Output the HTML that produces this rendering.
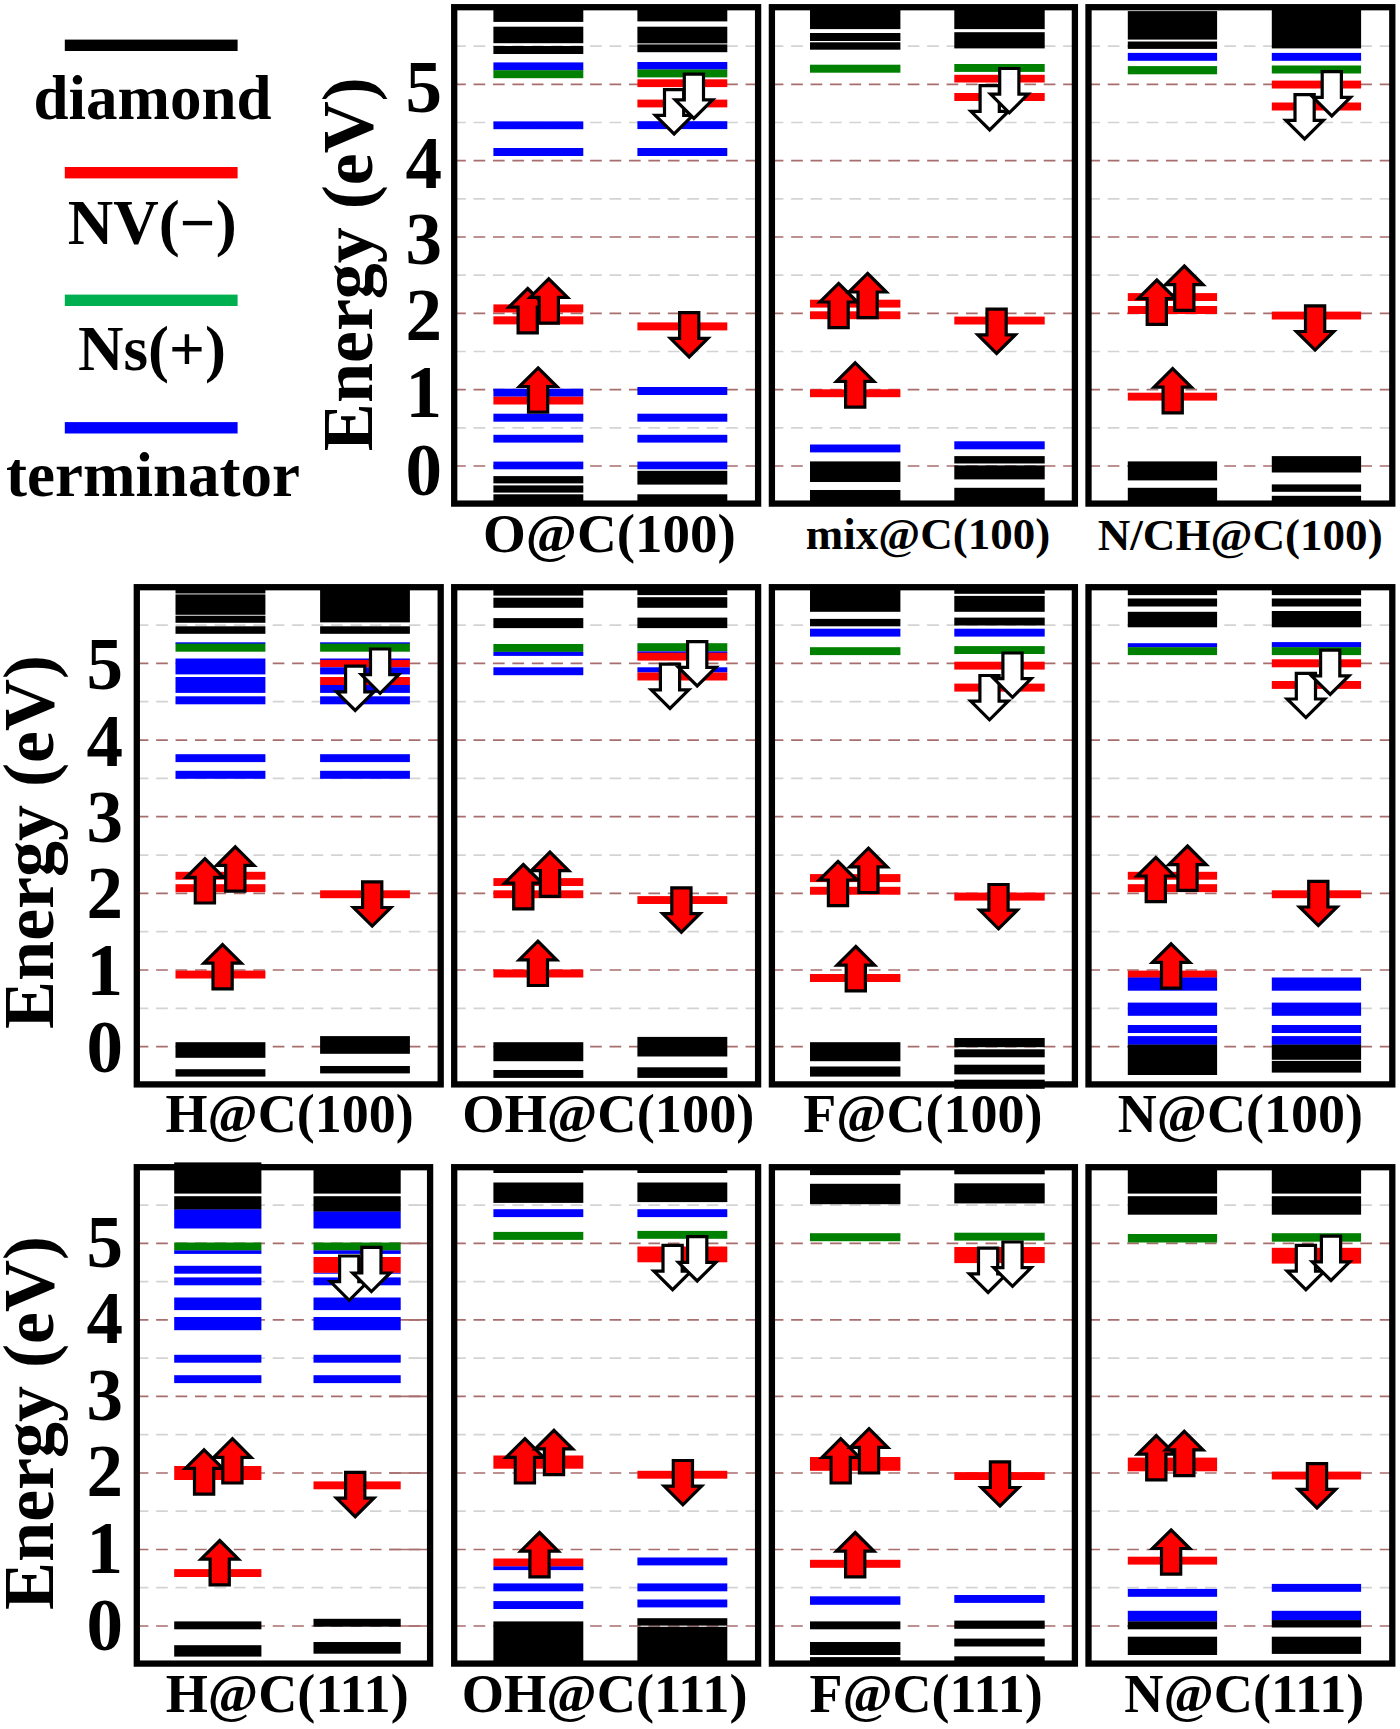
<!DOCTYPE html>
<html lang="en"><head><meta charset="utf-8"><title>Energy level diagrams</title>
<style>html,body{margin:0;padding:0;background:#fff}svg{display:block}</style></head>
<body>
<svg width="1400" height="1729" viewBox="0 0 1400 1729">
<rect width="1400" height="1729" fill="#fff"/>
<g fill="none" stroke-width="1.7" stroke-dasharray="11.7 7.73"><path d="M454.1 466H758.3" stroke="#a86d6d"/><path d="M454.1 427.8H758.3" stroke="#d3d3d3"/><path d="M454.1 389.7H758.3" stroke="#a86d6d"/><path d="M454.1 351.5H758.3" stroke="#d3d3d3"/><path d="M454.1 313.3H758.3" stroke="#a86d6d"/><path d="M454.1 275.2H758.3" stroke="#d3d3d3"/><path d="M454.1 237H758.3" stroke="#a86d6d"/><path d="M454.1 198.8H758.3" stroke="#d3d3d3"/><path d="M454.1 160.7H758.3" stroke="#a86d6d"/><path d="M454.1 122.5H758.3" stroke="#d3d3d3"/><path d="M454.1 84.4H758.3" stroke="#a86d6d"/><path d="M454.1 46.2H758.3" stroke="#d3d3d3"/></g>
<g><rect x="493.4" y="10" width="89.9" height="11.9" fill="#000"/><rect x="493.4" y="26.7" width="89.9" height="16.5" fill="#000"/><rect x="493.4" y="46" width="89.9" height="8" fill="#000"/><rect x="493.4" y="62.4" width="89.9" height="8" fill="#00f"/><rect x="493.4" y="70.2" width="89.9" height="8" fill="#008000"/><rect x="493.4" y="121.4" width="89.9" height="7.8" fill="#00f"/><rect x="493.4" y="148" width="89.9" height="8" fill="#00f"/><rect x="493.4" y="304.4" width="89.9" height="8.1" fill="#f00"/><rect x="493.4" y="316.3" width="89.9" height="8.1" fill="#f00"/><rect x="493.4" y="388.7" width="89.9" height="8" fill="#00f"/><rect x="493.4" y="396.7" width="89.9" height="7.8" fill="#f00"/><rect x="493.4" y="413.7" width="89.9" height="8" fill="#00f"/><rect x="493.4" y="434.8" width="89.9" height="7.8" fill="#00f"/><rect x="493.4" y="461.6" width="89.9" height="7.7" fill="#00f"/><rect x="493.4" y="476.1" width="89.9" height="7.3" fill="#000"/><rect x="493.4" y="485.4" width="89.9" height="7.2" fill="#000"/><rect x="493.4" y="494.3" width="89.9" height="6.7" fill="#000"/><rect x="637.4" y="10" width="89.9" height="11.4" fill="#000"/><rect x="637.4" y="26.7" width="89.9" height="16.7" fill="#000"/><rect x="637.4" y="44.4" width="89.9" height="7.8" fill="#000"/><rect x="637.4" y="62" width="89.9" height="7.6" fill="#00f"/><rect x="637.4" y="69.5" width="89.9" height="7.9" fill="#008000"/><rect x="637.4" y="79.3" width="89.9" height="7.8" fill="#f00"/><rect x="637.4" y="99.6" width="89.9" height="7.8" fill="#f00"/><rect x="637.4" y="121.2" width="89.9" height="7.9" fill="#00f"/><rect x="637.4" y="148" width="89.9" height="8" fill="#00f"/><rect x="637.4" y="322.4" width="89.9" height="8" fill="#f00"/><rect x="637.4" y="387" width="89.9" height="8" fill="#00f"/><rect x="637.4" y="413.7" width="89.9" height="8" fill="#00f"/><rect x="637.4" y="434.8" width="89.9" height="7.8" fill="#00f"/><rect x="637.4" y="461.6" width="89.9" height="7.7" fill="#00f"/><rect x="637.4" y="470.8" width="89.9" height="13.8" fill="#000"/><rect x="637.4" y="494.3" width="89.9" height="6.7" fill="#000"/></g>
<rect x="454.2" y="7.2" width="303.9" height="496.4" fill="none" stroke="#000" stroke-width="6.3"/>
<g stroke="#000" stroke-width="3.2" stroke-linejoin="miter"><path d="M527.7 288.5 L546.4 307.1 L537.3 307.1 L537.3 332.8 L518.1 332.8 L518.1 307.1 L509 307.1Z" fill="#f00"/><path d="M548.8 278.8 L567.5 297.4 L558.4 297.4 L558.4 323.1 L539.2 323.1 L539.2 297.4 L530.1 297.4Z" fill="#f00"/><path d="M538.1 367.9 L556.8 386.5 L547.7 386.5 L547.7 412.2 L528.5 412.2 L528.5 386.5 L519.4 386.5Z" fill="#f00"/><path d="M679.6 312.6 L698.8 312.6 L698.8 338.3 L707.9 338.3 L689.2 356.9 L670.5 338.3 L679.6 338.3Z" fill="#f00"/><path d="M664.5 89.7 L683.7 89.7 L683.7 115.4 L692.8 115.4 L674.1 134 L655.4 115.4 L664.5 115.4Z" fill="#fff"/><path d="M684.3 74.1 L703.5 74.1 L703.5 99.8 L712.6 99.8 L693.9 118.4 L675.2 99.8 L684.3 99.8Z" fill="#fff"/></g>
<g fill="none" stroke-width="1.7" stroke-dasharray="11.7 7.73"><path d="M771.7 466H1075" stroke="#a86d6d"/><path d="M771.7 427.8H1075" stroke="#d3d3d3"/><path d="M771.7 389.7H1075" stroke="#a86d6d"/><path d="M771.7 351.5H1075" stroke="#d3d3d3"/><path d="M771.7 313.3H1075" stroke="#a86d6d"/><path d="M771.7 275.2H1075" stroke="#d3d3d3"/><path d="M771.7 237H1075" stroke="#a86d6d"/><path d="M771.7 198.8H1075" stroke="#d3d3d3"/><path d="M771.7 160.7H1075" stroke="#a86d6d"/><path d="M771.7 122.5H1075" stroke="#d3d3d3"/><path d="M771.7 84.4H1075" stroke="#a86d6d"/><path d="M771.7 46.2H1075" stroke="#d3d3d3"/></g>
<g><rect x="810" y="10" width="90.4" height="19.1" fill="#000"/><rect x="810" y="33" width="90.4" height="8" fill="#000"/><rect x="810" y="42.3" width="90.4" height="7.4" fill="#000"/><rect x="810" y="64.7" width="90.4" height="8" fill="#008000"/><rect x="810" y="299.7" width="90.4" height="7.9" fill="#f00"/><rect x="810" y="311.3" width="90.4" height="7.9" fill="#f00"/><rect x="810" y="389.3" width="90.4" height="7.9" fill="#f00"/><rect x="810" y="444.5" width="90.4" height="7.9" fill="#00f"/><rect x="810" y="461.4" width="90.4" height="20.6" fill="#000"/><rect x="810" y="490" width="90.4" height="11" fill="#000"/><rect x="954.3" y="10" width="90.4" height="19.1" fill="#000"/><rect x="954.3" y="32.2" width="90.4" height="16.2" fill="#000"/><rect x="954.3" y="64" width="90.4" height="7.9" fill="#008000"/><rect x="954.3" y="74.8" width="90.4" height="7.7" fill="#f00"/><rect x="954.3" y="93" width="90.4" height="8" fill="#f00"/><rect x="954.3" y="316.6" width="90.4" height="7.9" fill="#f00"/><rect x="954.3" y="441.3" width="90.4" height="8" fill="#00f"/><rect x="954.3" y="456.1" width="90.4" height="7.4" fill="#000"/><rect x="954.3" y="465.4" width="90.4" height="14" fill="#000"/><rect x="954.3" y="487.8" width="90.4" height="13.2" fill="#000"/></g>
<rect x="771.9" y="7.2" width="303" height="496.4" fill="none" stroke="#000" stroke-width="6.3"/>
<g stroke="#000" stroke-width="3.2" stroke-linejoin="miter"><path d="M838.6 283.4 L857.3 302 L848.2 302 L848.2 327.7 L829 327.7 L829 302 L819.9 302Z" fill="#f00"/><path d="M867.6 273.4 L886.3 292 L877.2 292 L877.2 317.7 L858 317.7 L858 292 L848.9 292Z" fill="#f00"/><path d="M855.2 362.8 L873.9 381.4 L864.8 381.4 L864.8 407.1 L845.6 407.1 L845.6 381.4 L836.5 381.4Z" fill="#f00"/><path d="M987 309.2 L1006.2 309.2 L1006.2 334.9 L1015.3 334.9 L996.6 353.5 L977.9 334.9 L987 334.9Z" fill="#f00"/><path d="M980.1 85.6 L999.3 85.6 L999.3 111.3 L1008.4 111.3 L989.7 129.9 L971 111.3 L980.1 111.3Z" fill="#fff"/><path d="M999.7 68.5 L1018.9 68.5 L1018.9 94.2 L1028 94.2 L1009.3 112.8 L990.6 94.2 L999.7 94.2Z" fill="#fff"/></g>
<g fill="none" stroke-width="1.7" stroke-dasharray="11.7 7.73"><path d="M1088.3 466H1392.4" stroke="#a86d6d"/><path d="M1088.3 427.8H1392.4" stroke="#d3d3d3"/><path d="M1088.3 389.7H1392.4" stroke="#a86d6d"/><path d="M1088.3 351.5H1392.4" stroke="#d3d3d3"/><path d="M1088.3 313.3H1392.4" stroke="#a86d6d"/><path d="M1088.3 275.2H1392.4" stroke="#d3d3d3"/><path d="M1088.3 237H1392.4" stroke="#a86d6d"/><path d="M1088.3 198.8H1392.4" stroke="#d3d3d3"/><path d="M1088.3 160.7H1392.4" stroke="#a86d6d"/><path d="M1088.3 122.5H1392.4" stroke="#d3d3d3"/><path d="M1088.3 84.4H1392.4" stroke="#a86d6d"/><path d="M1088.3 46.2H1392.4" stroke="#d3d3d3"/></g>
<g><rect x="1127.8" y="11.1" width="89.3" height="28.5" fill="#000"/><rect x="1127.8" y="41.5" width="89.3" height="7.4" fill="#000"/><rect x="1127.8" y="52.9" width="89.3" height="7.9" fill="#00f"/><rect x="1127.8" y="66.1" width="89.3" height="8.2" fill="#008000"/><rect x="1127.8" y="293.1" width="89.3" height="7.9" fill="#f00"/><rect x="1127.8" y="306" width="89.3" height="8" fill="#f00"/><rect x="1127.8" y="392.7" width="89.3" height="7.9" fill="#f00"/><rect x="1127.8" y="461.4" width="89.3" height="19" fill="#000"/><rect x="1127.8" y="487.8" width="89.3" height="13.2" fill="#000"/><rect x="1271.8" y="10" width="89.3" height="38.4" fill="#000"/><rect x="1271.8" y="52.9" width="89.3" height="7.9" fill="#00f"/><rect x="1271.8" y="65.5" width="89.3" height="8" fill="#008000"/><rect x="1271.8" y="80.6" width="89.3" height="7.9" fill="#f00"/><rect x="1271.8" y="102.5" width="89.3" height="8" fill="#f00"/><rect x="1271.8" y="311.6" width="89.3" height="7.9" fill="#f00"/><rect x="1271.8" y="456.1" width="89.3" height="16.4" fill="#000"/><rect x="1271.8" y="484.4" width="89.3" height="7.4" fill="#000"/><rect x="1271.8" y="495.8" width="89.3" height="5.2" fill="#000"/></g>
<rect x="1088.5" y="7.2" width="303.8" height="496.4" fill="none" stroke="#000" stroke-width="6.3"/>
<g stroke="#000" stroke-width="3.2" stroke-linejoin="miter"><path d="M1156.8 280 L1175.5 298.6 L1166.4 298.6 L1166.4 324.3 L1147.2 324.3 L1147.2 298.6 L1138.1 298.6Z" fill="#f00"/><path d="M1184.3 266 L1203 284.6 L1193.9 284.6 L1193.9 310.3 L1174.7 310.3 L1174.7 284.6 L1165.6 284.6Z" fill="#f00"/><path d="M1172.7 368.6 L1191.4 387.2 L1182.3 387.2 L1182.3 412.9 L1163.1 412.9 L1163.1 387.2 L1154 387.2Z" fill="#f00"/><path d="M1305.5 305.8 L1324.7 305.8 L1324.7 331.5 L1333.8 331.5 L1315.1 350.1 L1296.4 331.5 L1305.5 331.5Z" fill="#f00"/><path d="M1295 94.6 L1314.2 94.6 L1314.2 120.3 L1323.3 120.3 L1304.6 138.9 L1285.9 120.3 L1295 120.3Z" fill="#fff"/><path d="M1322.2 71.6 L1341.4 71.6 L1341.4 97.3 L1350.5 97.3 L1331.8 115.9 L1313.1 97.3 L1322.2 97.3Z" fill="#fff"/></g>
<g fill="none" stroke-width="1.7" stroke-dasharray="11.7 7.73"><path d="M136.7 1046.7H440.9" stroke="#a86d6d"/><path d="M136.7 1008.4H440.9" stroke="#d3d3d3"/><path d="M136.7 970H440.9" stroke="#a86d6d"/><path d="M136.7 931.7H440.9" stroke="#d3d3d3"/><path d="M136.7 893.4H440.9" stroke="#a86d6d"/><path d="M136.7 855.1H440.9" stroke="#d3d3d3"/><path d="M136.7 816.7H440.9" stroke="#a86d6d"/><path d="M136.7 778.4H440.9" stroke="#d3d3d3"/><path d="M136.7 740.1H440.9" stroke="#a86d6d"/><path d="M136.7 701.7H440.9" stroke="#d3d3d3"/><path d="M136.7 663.4H440.9" stroke="#a86d6d"/><path d="M136.7 625.1H440.9" stroke="#d3d3d3"/></g>
<g><rect x="175.5" y="590" width="89.9" height="3.5" fill="#000"/><rect x="175.5" y="594.4" width="89.9" height="20.4" fill="#000"/><rect x="175.5" y="615.7" width="89.9" height="7.1" fill="#000"/><rect x="175.5" y="626.3" width="89.9" height="7.5" fill="#000"/><rect x="175.5" y="642.3" width="89.9" height="1.7" fill="#00f"/><rect x="175.5" y="643.6" width="89.9" height="8.1" fill="#008000"/><rect x="175.5" y="658.5" width="89.9" height="15.9" fill="#00f"/><rect x="175.5" y="677" width="89.9" height="15.9" fill="#00f"/><rect x="175.5" y="696.3" width="89.9" height="8" fill="#00f"/><rect x="175.5" y="754.2" width="89.9" height="7.9" fill="#00f"/><rect x="175.5" y="770.8" width="89.9" height="8" fill="#00f"/><rect x="175.5" y="871.8" width="89.9" height="7.9" fill="#f00"/><rect x="175.5" y="884.2" width="89.9" height="7.9" fill="#f00"/><rect x="175.5" y="970.6" width="89.9" height="7.9" fill="#f00"/><rect x="175.5" y="1042.2" width="89.9" height="15.6" fill="#000"/><rect x="175.5" y="1069.2" width="89.9" height="7.4" fill="#000"/><rect x="320.1" y="590" width="89.8" height="32.4" fill="#000"/><rect x="320.1" y="626.3" width="89.8" height="7.5" fill="#000"/><rect x="320.1" y="642.3" width="89.8" height="1.7" fill="#00f"/><rect x="320.1" y="643.6" width="89.8" height="8.1" fill="#008000"/><rect x="320.1" y="658.5" width="89.8" height="2" fill="#00f"/><rect x="320.1" y="659.9" width="89.8" height="7.4" fill="#f00"/><rect x="320.1" y="667.3" width="89.8" height="7.1" fill="#00f"/><rect x="320.1" y="677" width="89.8" height="8" fill="#f00"/><rect x="320.1" y="685" width="89.8" height="7.9" fill="#00f"/><rect x="320.1" y="696.3" width="89.8" height="8" fill="#00f"/><rect x="320.1" y="754.2" width="89.8" height="7.9" fill="#00f"/><rect x="320.1" y="770.8" width="89.8" height="8" fill="#00f"/><rect x="320.1" y="890.3" width="89.8" height="7.9" fill="#f00"/><rect x="320.1" y="1036.1" width="89.8" height="17.7" fill="#000"/><rect x="320.1" y="1066" width="89.8" height="7.4" fill="#000"/></g>
<rect x="136.8" y="587.2" width="303.9" height="497.2" fill="none" stroke="#000" stroke-width="6.3"/>
<g stroke="#000" stroke-width="3.2" stroke-linejoin="miter"><path d="M204.9 858.7 L223.6 877.3 L214.5 877.3 L214.5 903 L195.3 903 L195.3 877.3 L186.2 877.3Z" fill="#f00"/><path d="M235.3 846.8 L254 865.4 L244.9 865.4 L244.9 891.1 L225.7 891.1 L225.7 865.4 L216.6 865.4Z" fill="#f00"/><path d="M222.6 944.6 L241.3 963.2 L232.2 963.2 L232.2 988.9 L213 988.9 L213 963.2 L203.9 963.2Z" fill="#f00"/><path d="M362.6 881.8 L381.8 881.8 L381.8 907.5 L390.9 907.5 L372.2 926.1 L353.5 907.5 L362.6 907.5Z" fill="#f00"/><path d="M345.6 666.2 L364.8 666.2 L364.8 691.9 L373.9 691.9 L355.2 710.5 L336.5 691.9 L345.6 691.9Z" fill="#fff"/><path d="M370.5 649 L389.7 649 L389.7 674.7 L398.8 674.7 L380.1 693.3 L361.4 674.7 L370.5 674.7Z" fill="#fff"/></g>
<g fill="none" stroke-width="1.7" stroke-dasharray="11.7 7.73"><path d="M454.1 1046.7H758.3" stroke="#a86d6d"/><path d="M454.1 1008.4H758.3" stroke="#d3d3d3"/><path d="M454.1 970H758.3" stroke="#a86d6d"/><path d="M454.1 931.7H758.3" stroke="#d3d3d3"/><path d="M454.1 893.4H758.3" stroke="#a86d6d"/><path d="M454.1 855.1H758.3" stroke="#d3d3d3"/><path d="M454.1 816.7H758.3" stroke="#a86d6d"/><path d="M454.1 778.4H758.3" stroke="#d3d3d3"/><path d="M454.1 740.1H758.3" stroke="#a86d6d"/><path d="M454.1 701.7H758.3" stroke="#d3d3d3"/><path d="M454.1 663.4H758.3" stroke="#a86d6d"/><path d="M454.1 625.1H758.3" stroke="#d3d3d3"/></g>
<g><rect x="493.4" y="590" width="89.9" height="5.6" fill="#000"/><rect x="493.4" y="597.7" width="89.9" height="10.1" fill="#000"/><rect x="493.4" y="618.1" width="89.9" height="10" fill="#000"/><rect x="493.4" y="644" width="89.9" height="7.9" fill="#008000"/><rect x="493.4" y="651.9" width="89.9" height="4" fill="#00f"/><rect x="493.4" y="667.3" width="89.9" height="7.9" fill="#00f"/><rect x="493.4" y="878.1" width="89.9" height="7.9" fill="#f00"/><rect x="493.4" y="890.3" width="89.9" height="7.9" fill="#f00"/><rect x="493.4" y="969.5" width="89.9" height="8" fill="#f00"/><rect x="493.4" y="1042.2" width="89.9" height="19" fill="#000"/><rect x="493.4" y="1070" width="89.9" height="7.9" fill="#000"/><rect x="637.4" y="590" width="89.9" height="5.1" fill="#000"/><rect x="637.4" y="597.2" width="89.9" height="10.6" fill="#000"/><rect x="637.4" y="617.6" width="89.9" height="10.5" fill="#000"/><rect x="637.4" y="643.2" width="89.9" height="8.2" fill="#008000"/><rect x="637.4" y="651.4" width="89.9" height="1.6" fill="#00f"/><rect x="637.4" y="652.7" width="89.9" height="7.9" fill="#f00"/><rect x="637.4" y="667.3" width="89.9" height="5.2" fill="#00f"/><rect x="637.4" y="672.5" width="89.9" height="8" fill="#f00"/><rect x="637.4" y="896.1" width="89.9" height="7.9" fill="#f00"/><rect x="637.4" y="1036.9" width="89.9" height="19.6" fill="#000"/><rect x="637.4" y="1067.3" width="89.9" height="10.6" fill="#000"/></g>
<rect x="454.2" y="587.2" width="303.9" height="497.2" fill="none" stroke="#000" stroke-width="6.3"/>
<g stroke="#000" stroke-width="3.2" stroke-linejoin="miter"><path d="M523.3 864.5 L542 883.1 L532.9 883.1 L532.9 908.8 L513.7 908.8 L513.7 883.1 L504.6 883.1Z" fill="#f00"/><path d="M550 852.1 L568.7 870.7 L559.6 870.7 L559.6 896.4 L540.4 896.4 L540.4 870.7 L531.3 870.7Z" fill="#f00"/><path d="M537.9 941.2 L556.6 959.8 L547.5 959.8 L547.5 985.5 L528.3 985.5 L528.3 959.8 L519.2 959.8Z" fill="#f00"/><path d="M671.8 887.9 L691 887.9 L691 913.6 L700.1 913.6 L681.4 932.2 L662.7 913.6 L671.8 913.6Z" fill="#f00"/><path d="M660.4 664.1 L679.6 664.1 L679.6 689.8 L688.7 689.8 L670 708.4 L651.3 689.8 L660.4 689.8Z" fill="#fff"/><path d="M687.6 641.6 L706.8 641.6 L706.8 667.3 L715.9 667.3 L697.2 685.9 L678.5 667.3 L687.6 667.3Z" fill="#fff"/></g>
<g fill="none" stroke-width="1.7" stroke-dasharray="11.7 7.73"><path d="M771.7 1046.7H1075" stroke="#a86d6d"/><path d="M771.7 1008.4H1075" stroke="#d3d3d3"/><path d="M771.7 970H1075" stroke="#a86d6d"/><path d="M771.7 931.7H1075" stroke="#d3d3d3"/><path d="M771.7 893.4H1075" stroke="#a86d6d"/><path d="M771.7 855.1H1075" stroke="#d3d3d3"/><path d="M771.7 816.7H1075" stroke="#a86d6d"/><path d="M771.7 778.4H1075" stroke="#d3d3d3"/><path d="M771.7 740.1H1075" stroke="#a86d6d"/><path d="M771.7 701.7H1075" stroke="#d3d3d3"/><path d="M771.7 663.4H1075" stroke="#a86d6d"/><path d="M771.7 625.1H1075" stroke="#d3d3d3"/></g>
<g><rect x="810" y="590" width="90.4" height="21.8" fill="#000"/><rect x="810" y="618.9" width="90.4" height="7.4" fill="#000"/><rect x="810" y="628.7" width="90.4" height="7.9" fill="#00f"/><rect x="810" y="647.2" width="90.4" height="7.9" fill="#008000"/><rect x="810" y="874.1" width="90.4" height="8" fill="#f00"/><rect x="810" y="886.8" width="90.4" height="7.9" fill="#f00"/><rect x="810" y="974" width="90.4" height="8" fill="#f00"/><rect x="810" y="1042.2" width="90.4" height="19" fill="#000"/><rect x="810" y="1066.5" width="90.4" height="10.1" fill="#000"/><rect x="954.3" y="590" width="90.4" height="3.8" fill="#000"/><rect x="954.3" y="595.9" width="90.4" height="15.9" fill="#000"/><rect x="954.3" y="617.6" width="90.4" height="7.9" fill="#000"/><rect x="954.3" y="628.7" width="90.4" height="7.9" fill="#00f"/><rect x="954.3" y="646.1" width="90.4" height="7.9" fill="#008000"/><rect x="954.3" y="661.7" width="90.4" height="7.9" fill="#f00"/><rect x="954.3" y="683.6" width="90.4" height="8" fill="#f00"/><rect x="954.3" y="892.6" width="90.4" height="8" fill="#f00"/><rect x="954.3" y="1038" width="90.4" height="9.2" fill="#000"/><rect x="954.3" y="1049.3" width="90.4" height="8" fill="#000"/><rect x="954.3" y="1064.7" width="90.4" height="9.7" fill="#000"/><rect x="954.3" y="1079.7" width="90.4" height="9.1" fill="#000"/></g>
<rect x="771.9" y="587.2" width="303" height="497.2" fill="none" stroke="#000" stroke-width="6.3"/>
<g stroke="#000" stroke-width="3.2" stroke-linejoin="miter"><path d="M838 861.4 L856.7 880 L847.6 880 L847.6 905.7 L828.4 905.7 L828.4 880 L819.3 880Z" fill="#f00"/><path d="M868.4 848.2 L887.1 866.8 L878 866.8 L878 892.5 L858.8 892.5 L858.8 866.8 L849.7 866.8Z" fill="#f00"/><path d="M855.8 946.5 L874.5 965.1 L865.4 965.1 L865.4 990.8 L846.2 990.8 L846.2 965.1 L837.1 965.1Z" fill="#f00"/><path d="M988.9 884.5 L1008.1 884.5 L1008.1 910.2 L1017.2 910.2 L998.5 928.8 L979.8 910.2 L988.9 910.2Z" fill="#f00"/><path d="M979.9 675.5 L999.1 675.5 L999.1 701.2 L1008.2 701.2 L989.5 719.8 L970.8 701.2 L979.9 701.2Z" fill="#fff"/><path d="M1002.9 653 L1022.1 653 L1022.1 678.7 L1031.2 678.7 L1012.5 697.3 L993.8 678.7 L1002.9 678.7Z" fill="#fff"/></g>
<g fill="none" stroke-width="1.7" stroke-dasharray="11.7 7.73"><path d="M1088.3 1046.7H1392.4" stroke="#a86d6d"/><path d="M1088.3 1008.4H1392.4" stroke="#d3d3d3"/><path d="M1088.3 970H1392.4" stroke="#a86d6d"/><path d="M1088.3 931.7H1392.4" stroke="#d3d3d3"/><path d="M1088.3 893.4H1392.4" stroke="#a86d6d"/><path d="M1088.3 855.1H1392.4" stroke="#d3d3d3"/><path d="M1088.3 816.7H1392.4" stroke="#a86d6d"/><path d="M1088.3 778.4H1392.4" stroke="#d3d3d3"/><path d="M1088.3 740.1H1392.4" stroke="#a86d6d"/><path d="M1088.3 701.7H1392.4" stroke="#d3d3d3"/><path d="M1088.3 663.4H1392.4" stroke="#a86d6d"/><path d="M1088.3 625.1H1392.4" stroke="#d3d3d3"/></g>
<g><rect x="1127.8" y="590" width="89.3" height="5.1" fill="#000"/><rect x="1127.8" y="598.5" width="89.3" height="8" fill="#000"/><rect x="1127.8" y="611.8" width="89.3" height="15.5" fill="#000"/><rect x="1127.8" y="643.2" width="89.3" height="4.3" fill="#00f"/><rect x="1127.8" y="647.2" width="89.3" height="7.9" fill="#008000"/><rect x="1127.8" y="871.8" width="89.3" height="7.9" fill="#f00"/><rect x="1127.8" y="884.2" width="89.3" height="7.9" fill="#f00"/><rect x="1127.8" y="970.6" width="89.3" height="7.2" fill="#f00"/><rect x="1127.8" y="977.5" width="89.3" height="13.2" fill="#00f"/><rect x="1127.8" y="1002.6" width="89.3" height="13.2" fill="#00f"/><rect x="1127.8" y="1025" width="89.3" height="8" fill="#00f"/><rect x="1127.8" y="1036.1" width="89.3" height="8.7" fill="#00f"/><rect x="1127.8" y="1044.6" width="89.3" height="30.4" fill="#000"/><rect x="1271.8" y="590" width="89.3" height="5.1" fill="#000"/><rect x="1271.8" y="598.5" width="89.3" height="8" fill="#000"/><rect x="1271.8" y="611" width="89.3" height="16.3" fill="#000"/><rect x="1271.8" y="642.1" width="89.3" height="5.4" fill="#00f"/><rect x="1271.8" y="647.2" width="89.3" height="7.9" fill="#008000"/><rect x="1271.8" y="659.3" width="89.3" height="8" fill="#f00"/><rect x="1271.8" y="681" width="89.3" height="7.9" fill="#f00"/><rect x="1271.8" y="890.3" width="89.3" height="7.9" fill="#f00"/><rect x="1271.8" y="977.5" width="89.3" height="13.2" fill="#00f"/><rect x="1271.8" y="1002.6" width="89.3" height="13.2" fill="#00f"/><rect x="1271.8" y="1025" width="89.3" height="8" fill="#00f"/><rect x="1271.8" y="1036.1" width="89.3" height="8.7" fill="#00f"/><rect x="1271.8" y="1044.6" width="89.3" height="15.2" fill="#000"/><rect x="1271.8" y="1060.9" width="89.3" height="11.7" fill="#000"/></g>
<rect x="1088.5" y="587.2" width="303.8" height="497.2" fill="none" stroke="#000" stroke-width="6.3"/>
<g stroke="#000" stroke-width="3.2" stroke-linejoin="miter"><path d="M1155.8 857.4 L1174.5 876 L1165.4 876 L1165.4 901.7 L1146.2 901.7 L1146.2 876 L1137.1 876Z" fill="#f00"/><path d="M1187.5 846 L1206.2 864.6 L1197.1 864.6 L1197.1 890.3 L1177.9 890.3 L1177.9 864.6 L1168.8 864.6Z" fill="#f00"/><path d="M1171.1 943.8 L1189.8 962.4 L1180.7 962.4 L1180.7 988.1 L1161.5 988.1 L1161.5 962.4 L1152.4 962.4Z" fill="#f00"/><path d="M1308.7 881.3 L1327.9 881.3 L1327.9 907 L1337 907 L1318.3 925.6 L1299.6 907 L1308.7 907Z" fill="#f00"/><path d="M1296.3 673.3 L1315.5 673.3 L1315.5 699 L1324.6 699 L1305.9 717.6 L1287.2 699 L1296.3 699Z" fill="#fff"/><path d="M1320.6 650.1 L1339.8 650.1 L1339.8 675.8 L1348.9 675.8 L1330.2 694.4 L1311.5 675.8 L1320.6 675.8Z" fill="#fff"/></g>
<g fill="none" stroke-width="1.7" stroke-dasharray="11.7 7.73"><path d="M136.7 1626H430.3" stroke="#a86d6d"/><path d="M389.1 1626H430.3" stroke="#a86d6d" stroke-dasharray="none"/><path d="M136.7 1587.7H430.3" stroke="#d3d3d3"/><path d="M408.6 1587.7H430.3" stroke="#d3d3d3" stroke-dasharray="none"/><path d="M136.7 1549.5H430.3" stroke="#a86d6d"/><path d="M389.1 1549.5H430.3" stroke="#a86d6d" stroke-dasharray="none"/><path d="M136.7 1511.2H430.3" stroke="#d3d3d3"/><path d="M408.6 1511.2H430.3" stroke="#d3d3d3" stroke-dasharray="none"/><path d="M136.7 1473H430.3" stroke="#a86d6d"/><path d="M389.1 1473H430.3" stroke="#a86d6d" stroke-dasharray="none"/><path d="M136.7 1434.7H430.3" stroke="#d3d3d3"/><path d="M408.6 1434.7H430.3" stroke="#d3d3d3" stroke-dasharray="none"/><path d="M136.7 1396.4H430.3" stroke="#a86d6d"/><path d="M389.1 1396.4H430.3" stroke="#a86d6d" stroke-dasharray="none"/><path d="M136.7 1358.2H430.3" stroke="#d3d3d3"/><path d="M408.6 1358.2H430.3" stroke="#d3d3d3" stroke-dasharray="none"/><path d="M136.7 1319.9H430.3" stroke="#a86d6d"/><path d="M389.1 1319.9H430.3" stroke="#a86d6d" stroke-dasharray="none"/><path d="M136.7 1281.7H430.3" stroke="#d3d3d3"/><path d="M408.6 1281.7H430.3" stroke="#d3d3d3" stroke-dasharray="none"/><path d="M136.7 1243.4H430.3" stroke="#a86d6d"/><path d="M389.1 1243.4H430.3" stroke="#a86d6d" stroke-dasharray="none"/><path d="M136.7 1205.1H430.3" stroke="#d3d3d3"/><path d="M408.6 1205.1H430.3" stroke="#d3d3d3" stroke-dasharray="none"/></g>
<g><rect x="174.2" y="1162.4" width="87.2" height="31.2" fill="#000"/><rect x="174.2" y="1196.2" width="87.2" height="13.6" fill="#000"/><rect x="174.2" y="1209.5" width="87.2" height="19" fill="#00f"/><rect x="174.2" y="1242.5" width="87.2" height="8.1" fill="#008000"/><rect x="174.2" y="1250.4" width="87.2" height="3.5" fill="#00f"/><rect x="174.2" y="1265.8" width="87.2" height="7.9" fill="#00f"/><rect x="174.2" y="1277.4" width="87.2" height="7.9" fill="#00f"/><rect x="174.2" y="1297.5" width="87.2" height="12.6" fill="#00f"/><rect x="174.2" y="1317" width="87.2" height="13.2" fill="#00f"/><rect x="174.2" y="1354.8" width="87.2" height="7.9" fill="#00f"/><rect x="174.2" y="1375.2" width="87.2" height="7.9" fill="#00f"/><rect x="174.2" y="1466" width="87.2" height="14" fill="#f00"/><rect x="174.2" y="1569.1" width="87.2" height="7.9" fill="#f00"/><rect x="174.2" y="1621.4" width="87.2" height="7.9" fill="#000"/><rect x="174.2" y="1645.2" width="87.2" height="11.4" fill="#000"/><rect x="313.5" y="1170" width="87.2" height="23.6" fill="#000"/><rect x="313.5" y="1196.2" width="87.2" height="15.6" fill="#000"/><rect x="313.5" y="1211.6" width="87.2" height="16.9" fill="#00f"/><rect x="313.5" y="1242.5" width="87.2" height="8.1" fill="#008000"/><rect x="313.5" y="1250.4" width="87.2" height="3.5" fill="#00f"/><rect x="313.5" y="1257" width="87.2" height="15.9" fill="#f00"/><rect x="313.5" y="1272.9" width="87.2" height="0.8" fill="#00f"/><rect x="313.5" y="1277.4" width="87.2" height="7.9" fill="#00f"/><rect x="313.5" y="1297.5" width="87.2" height="12.6" fill="#00f"/><rect x="313.5" y="1317" width="87.2" height="13.2" fill="#00f"/><rect x="313.5" y="1354.8" width="87.2" height="7.9" fill="#00f"/><rect x="313.5" y="1375.2" width="87.2" height="7.9" fill="#00f"/><rect x="313.5" y="1481.4" width="87.2" height="7.9" fill="#f00"/><rect x="313.5" y="1618.8" width="87.2" height="7.9" fill="#000"/><rect x="313.5" y="1642" width="87.2" height="11.7" fill="#000"/></g>
<rect x="136.8" y="1167.2" width="293.3" height="496.4" fill="none" stroke="#000" stroke-width="6.3"/>
<g stroke="#000" stroke-width="3.2" stroke-linejoin="miter"><path d="M204.1 1449.8 L222.8 1468.4 L213.7 1468.4 L213.7 1494.1 L194.5 1494.1 L194.5 1468.4 L185.4 1468.4Z" fill="#f00"/><path d="M232.4 1438.7 L251.1 1457.3 L242 1457.3 L242 1483 L222.8 1483 L222.8 1457.3 L213.7 1457.3Z" fill="#f00"/><path d="M219.7 1540.5 L238.4 1559.1 L229.3 1559.1 L229.3 1584.8 L210.1 1584.8 L210.1 1559.1 L201 1559.1Z" fill="#f00"/><path d="M345.6 1472.4 L364.8 1472.4 L364.8 1498.1 L373.9 1498.1 L355.2 1516.7 L336.5 1498.1 L345.6 1498.1Z" fill="#f00"/><path d="M339.6 1256 L358.8 1256 L358.8 1281.7 L367.9 1281.7 L349.2 1300.3 L330.5 1281.7 L339.6 1281.7Z" fill="#fff"/><path d="M361.8 1247.3 L381 1247.3 L381 1273 L390.1 1273 L371.4 1291.6 L352.7 1273 L361.8 1273Z" fill="#fff"/></g>
<g fill="none" stroke-width="1.7" stroke-dasharray="11.7 7.73"><path d="M454.1 1626H758.3" stroke="#a86d6d"/><path d="M454.1 1587.7H758.3" stroke="#d3d3d3"/><path d="M454.1 1549.5H758.3" stroke="#a86d6d"/><path d="M454.1 1511.2H758.3" stroke="#d3d3d3"/><path d="M454.1 1473H758.3" stroke="#a86d6d"/><path d="M454.1 1434.7H758.3" stroke="#d3d3d3"/><path d="M454.1 1396.4H758.3" stroke="#a86d6d"/><path d="M454.1 1358.2H758.3" stroke="#d3d3d3"/><path d="M454.1 1319.9H758.3" stroke="#a86d6d"/><path d="M454.1 1281.7H758.3" stroke="#d3d3d3"/><path d="M454.1 1243.4H758.3" stroke="#a86d6d"/><path d="M454.1 1205.1H758.3" stroke="#d3d3d3"/></g>
<g><rect x="493.4" y="1170" width="89.9" height="3" fill="#000"/><rect x="493.4" y="1182.5" width="89.9" height="20.4" fill="#000"/><rect x="493.4" y="1209.2" width="89.9" height="7.9" fill="#00f"/><rect x="493.4" y="1231.9" width="89.9" height="8" fill="#008000"/><rect x="493.4" y="1455.5" width="89.9" height="13.2" fill="#f00"/><rect x="493.4" y="1558.5" width="89.9" height="8.1" fill="#f00"/><rect x="493.4" y="1566.4" width="89.9" height="3.7" fill="#00f"/><rect x="493.4" y="1583.4" width="89.9" height="7.9" fill="#00f"/><rect x="493.4" y="1601.1" width="89.9" height="7.9" fill="#00f"/><rect x="493.4" y="1621.4" width="89.9" height="39.6" fill="#000"/><rect x="637.4" y="1170" width="89.9" height="3" fill="#000"/><rect x="637.4" y="1182.5" width="89.9" height="19.6" fill="#000"/><rect x="637.4" y="1209.2" width="89.9" height="7.9" fill="#00f"/><rect x="637.4" y="1230.9" width="89.9" height="7.9" fill="#008000"/><rect x="637.4" y="1246.5" width="89.9" height="15.8" fill="#f00"/><rect x="637.4" y="1470.8" width="89.9" height="7.9" fill="#f00"/><rect x="637.4" y="1557.5" width="89.9" height="7.9" fill="#00f"/><rect x="637.4" y="1583.4" width="89.9" height="7.9" fill="#00f"/><rect x="637.4" y="1599.5" width="89.9" height="7.9" fill="#00f"/><rect x="637.4" y="1618.2" width="89.9" height="7.4" fill="#000"/><rect x="637.4" y="1626.8" width="89.9" height="34.2" fill="#000"/></g>
<rect x="454.2" y="1167.2" width="303.9" height="496.4" fill="none" stroke="#000" stroke-width="6.3"/>
<g stroke="#000" stroke-width="3.2" stroke-linejoin="miter"><path d="M524.9 1438.7 L543.6 1457.3 L534.5 1457.3 L534.5 1483 L515.3 1483 L515.3 1457.3 L506.2 1457.3Z" fill="#f00"/><path d="M554 1430.3 L572.7 1448.9 L563.6 1448.9 L563.6 1474.6 L544.4 1474.6 L544.4 1448.9 L535.3 1448.9Z" fill="#f00"/><path d="M539.5 1532.5 L558.2 1551.1 L549.1 1551.1 L549.1 1576.8 L529.9 1576.8 L529.9 1551.1 L520.8 1551.1Z" fill="#f00"/><path d="M673.3 1460.5 L692.5 1460.5 L692.5 1486.2 L701.6 1486.2 L682.9 1504.8 L664.2 1486.2 L673.3 1486.2Z" fill="#f00"/><path d="M663 1245.4 L682.2 1245.4 L682.2 1271.1 L691.3 1271.1 L672.6 1289.7 L653.9 1271.1 L663 1271.1Z" fill="#fff"/><path d="M687.6 1236.7 L706.8 1236.7 L706.8 1262.4 L715.9 1262.4 L697.2 1281 L678.5 1262.4 L687.6 1262.4Z" fill="#fff"/></g>
<g fill="none" stroke-width="1.7" stroke-dasharray="11.7 7.73"><path d="M771.7 1626H1075" stroke="#a86d6d"/><path d="M771.7 1587.7H1075" stroke="#d3d3d3"/><path d="M771.7 1549.5H1075" stroke="#a86d6d"/><path d="M771.7 1511.2H1075" stroke="#d3d3d3"/><path d="M771.7 1473H1075" stroke="#a86d6d"/><path d="M771.7 1434.7H1075" stroke="#d3d3d3"/><path d="M771.7 1396.4H1075" stroke="#a86d6d"/><path d="M771.7 1358.2H1075" stroke="#d3d3d3"/><path d="M771.7 1319.9H1075" stroke="#a86d6d"/><path d="M771.7 1281.7H1075" stroke="#d3d3d3"/><path d="M771.7 1243.4H1075" stroke="#a86d6d"/><path d="M771.7 1205.1H1075" stroke="#d3d3d3"/></g>
<g><rect x="810" y="1170" width="90.4" height="5.1" fill="#000"/><rect x="810" y="1183.8" width="90.4" height="20.4" fill="#000"/><rect x="810" y="1233.2" width="90.4" height="8" fill="#008000"/><rect x="810" y="1457" width="90.4" height="13.8" fill="#f00"/><rect x="810" y="1559.8" width="90.4" height="8" fill="#f00"/><rect x="810" y="1596.3" width="90.4" height="8.5" fill="#00f"/><rect x="810" y="1621.4" width="90.4" height="7.9" fill="#000"/><rect x="810" y="1642" width="90.4" height="13" fill="#000"/><rect x="810" y="1657.1" width="90.4" height="3.9" fill="#000"/><rect x="954.3" y="1170" width="90.4" height="4.3" fill="#000"/><rect x="954.3" y="1183.3" width="90.4" height="20.1" fill="#000"/><rect x="954.3" y="1232.7" width="90.4" height="7.9" fill="#008000"/><rect x="954.3" y="1247" width="90.4" height="16.1" fill="#f00"/><rect x="954.3" y="1472.1" width="90.4" height="7.9" fill="#f00"/><rect x="954.3" y="1595" width="90.4" height="7.9" fill="#00f"/><rect x="954.3" y="1620.6" width="90.4" height="8.2" fill="#000"/><rect x="954.3" y="1638.6" width="90.4" height="7.9" fill="#000"/><rect x="954.3" y="1656.3" width="90.4" height="4.7" fill="#000"/></g>
<rect x="771.9" y="1167.2" width="303" height="496.4" fill="none" stroke="#000" stroke-width="6.3"/>
<g stroke="#000" stroke-width="3.2" stroke-linejoin="miter"><path d="M840.7 1438.7 L859.4 1457.3 L850.3 1457.3 L850.3 1483 L831.1 1483 L831.1 1457.3 L822 1457.3Z" fill="#f00"/><path d="M869 1428.7 L887.7 1447.3 L878.6 1447.3 L878.6 1473 L859.4 1473 L859.4 1447.3 L850.3 1447.3Z" fill="#f00"/><path d="M855.2 1532.5 L873.9 1551.1 L864.8 1551.1 L864.8 1576.8 L845.6 1576.8 L845.6 1551.1 L836.5 1551.1Z" fill="#f00"/><path d="M990.4 1461.8 L1009.6 1461.8 L1009.6 1487.5 L1018.7 1487.5 L1000 1506.1 L981.3 1487.5 L990.4 1487.5Z" fill="#f00"/><path d="M978.5 1248.1 L997.7 1248.1 L997.7 1273.8 L1006.8 1273.8 L988.1 1292.4 L969.4 1273.8 L978.5 1273.8Z" fill="#fff"/><path d="M1002.9 1242 L1022.1 1242 L1022.1 1267.7 L1031.2 1267.7 L1012.5 1286.3 L993.8 1267.7 L1002.9 1267.7Z" fill="#fff"/></g>
<g fill="none" stroke-width="1.7" stroke-dasharray="11.7 7.73"><path d="M1088.3 1626H1392.4" stroke="#a86d6d"/><path d="M1088.3 1587.7H1392.4" stroke="#d3d3d3"/><path d="M1088.3 1549.5H1392.4" stroke="#a86d6d"/><path d="M1088.3 1511.2H1392.4" stroke="#d3d3d3"/><path d="M1088.3 1473H1392.4" stroke="#a86d6d"/><path d="M1088.3 1434.7H1392.4" stroke="#d3d3d3"/><path d="M1088.3 1396.4H1392.4" stroke="#a86d6d"/><path d="M1088.3 1358.2H1392.4" stroke="#d3d3d3"/><path d="M1088.3 1319.9H1392.4" stroke="#a86d6d"/><path d="M1088.3 1281.7H1392.4" stroke="#d3d3d3"/><path d="M1088.3 1243.4H1392.4" stroke="#a86d6d"/><path d="M1088.3 1205.1H1392.4" stroke="#d3d3d3"/></g>
<g><rect x="1127.8" y="1170" width="89.3" height="23.6" fill="#000"/><rect x="1127.8" y="1196.2" width="89.3" height="18.5" fill="#000"/><rect x="1127.8" y="1234" width="89.3" height="8.5" fill="#008000"/><rect x="1127.8" y="1457.6" width="89.3" height="13.7" fill="#f00"/><rect x="1127.8" y="1556.7" width="89.3" height="7.9" fill="#f00"/><rect x="1127.8" y="1588.9" width="89.3" height="7.9" fill="#00f"/><rect x="1127.8" y="1610.8" width="89.3" height="10.8" fill="#00f"/><rect x="1127.8" y="1621.4" width="89.3" height="7.9" fill="#000"/><rect x="1127.8" y="1636.7" width="89.3" height="18.3" fill="#000"/><rect x="1271.8" y="1170" width="89.3" height="23.6" fill="#000"/><rect x="1271.8" y="1196.2" width="89.3" height="18.5" fill="#000"/><rect x="1271.8" y="1233.2" width="89.3" height="8.5" fill="#008000"/><rect x="1271.8" y="1247.8" width="89.3" height="15.8" fill="#f00"/><rect x="1271.8" y="1471.6" width="89.3" height="7.9" fill="#f00"/><rect x="1271.8" y="1583.9" width="89.3" height="7.9" fill="#00f"/><rect x="1271.8" y="1610.8" width="89.3" height="9.5" fill="#00f"/><rect x="1271.8" y="1620.1" width="89.3" height="7.4" fill="#000"/><rect x="1271.8" y="1636.7" width="89.3" height="17.2" fill="#000"/></g>
<rect x="1088.5" y="1167.2" width="303.8" height="496.4" fill="none" stroke="#000" stroke-width="6.3"/>
<g stroke="#000" stroke-width="3.2" stroke-linejoin="miter"><path d="M1156.3 1435.6 L1175 1454.2 L1165.9 1454.2 L1165.9 1479.9 L1146.7 1479.9 L1146.7 1454.2 L1137.6 1454.2Z" fill="#f00"/><path d="M1184.3 1431.3 L1203 1449.9 L1193.9 1449.9 L1193.9 1475.6 L1174.7 1475.6 L1174.7 1449.9 L1165.6 1449.9Z" fill="#f00"/><path d="M1171.1 1529.9 L1189.8 1548.5 L1180.7 1548.5 L1180.7 1574.2 L1161.5 1574.2 L1161.5 1548.5 L1152.4 1548.5Z" fill="#f00"/><path d="M1307.4 1463.7 L1326.6 1463.7 L1326.6 1489.4 L1335.7 1489.4 L1317 1508 L1298.3 1489.4 L1307.4 1489.4Z" fill="#f00"/><path d="M1296.3 1245.4 L1315.5 1245.4 L1315.5 1271.1 L1324.6 1271.1 L1305.9 1289.7 L1287.2 1271.1 L1296.3 1271.1Z" fill="#fff"/><path d="M1321.4 1236.2 L1340.6 1236.2 L1340.6 1261.9 L1349.7 1261.9 L1331 1280.5 L1312.3 1261.9 L1321.4 1261.9Z" fill="#fff"/></g>
<g>
<rect x="64.8" y="39.6" width="172.8" height="11.4" fill="#000"/>
<rect x="64.8" y="167" width="172.8" height="11.4" fill="#f00"/>
<rect x="64.8" y="294.6" width="172.8" height="11.4" fill="#00b050"/>
<rect x="64.8" y="422.1" width="172.8" height="11.4" fill="#00f"/>
</g>
<g font-family="'Liberation Serif', serif" font-weight="bold" fill="#000" text-anchor="middle">
<text x="152.6" y="118.5" font-size="63">diamond</text>
<text x="152.3" y="244" font-size="63">NV(−)</text>
<text x="152" y="370" font-size="63">Ns(+)</text>
<text x="153" y="496" font-size="63">terminator</text>
<text x="609.5" y="552.4" font-size="55">O@C(100)</text>
<text x="928" y="549" font-size="45">mix@C(100)</text>
<text x="1240.2" y="549.9" font-size="45.1">N/CH@C(100)</text>
<text x="289.6" y="1132" font-size="54">H@C(100)</text>
<text x="608.3" y="1132" font-size="54.4">OH@C(100)</text>
<text x="922.8" y="1132" font-size="54">F@C(100)</text>
<text x="1240.3" y="1132" font-size="54">N@C(100)</text>
<text x="287.2" y="1711.7" font-size="54.2">H@C(111)</text>
<text x="604.7" y="1711.7" font-size="54.3">OH@C(111)</text>
<text x="926" y="1711.7" font-size="54">F@C(111)</text>
<text x="1244.3" y="1711.7" font-size="54.2">N@C(111)</text>
<text x="423.8" y="111.6" font-size="73">5</text>
<text x="423.8" y="187.7" font-size="73">4</text>
<text x="423.8" y="264.4" font-size="73">3</text>
<text x="423.8" y="340.4" font-size="73">2</text>
<text x="423.8" y="417.3" font-size="73">1</text>
<text x="423.8" y="494.6" font-size="73">0</text>
<text transform="translate(372.4 264.2) rotate(-90)" font-size="72">Energy (eV)</text>
<text x="104.8" y="689.4" font-size="73">5</text>
<text x="104.8" y="765.5" font-size="73">4</text>
<text x="104.8" y="842.2" font-size="73">3</text>
<text x="104.8" y="918.2" font-size="73">2</text>
<text x="104.8" y="995.1" font-size="73">1</text>
<text x="104.8" y="1072.4" font-size="73">0</text>
<text transform="translate(53.4 842) rotate(-90)" font-size="72">Energy (eV)</text>
<text x="104.8" y="1266.9" font-size="73">5</text>
<text x="104.8" y="1343" font-size="73">4</text>
<text x="104.8" y="1419.7" font-size="73">3</text>
<text x="104.8" y="1495.7" font-size="73">2</text>
<text x="104.8" y="1572.6" font-size="73">1</text>
<text x="104.8" y="1649.9" font-size="73">0</text>
<text transform="translate(53.4 1423) rotate(-90)" font-size="72">Energy (eV)</text>
</g>
</svg>
</body></html>
